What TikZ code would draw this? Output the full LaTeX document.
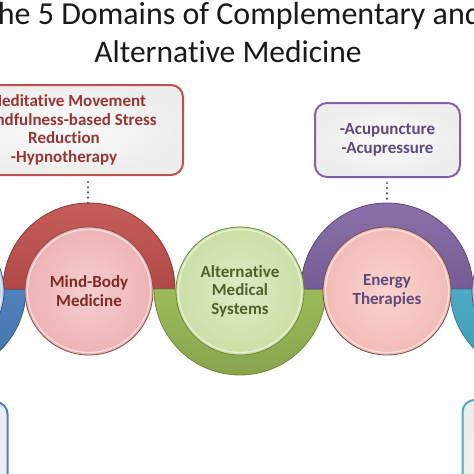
\documentclass[tikz,border=0pt]{standalone}
\usepackage{fontspec}
\setmainfont{Carlito}[Ligatures=CommonOff]
\definecolor{redring}{HTML}{C0504D}
\definecolor{redringD}{HTML}{8C3836}
\definecolor{bluering}{HTML}{4F81BD}
\definecolor{blueringD}{HTML}{385D8A}
\definecolor{greenring}{HTML}{9BBB59}
\definecolor{greenringD}{HTML}{71893F}
\definecolor{purplering}{HTML}{8064A2}
\definecolor{purpleringD}{HTML}{5C4776}
\definecolor{tealring}{HTML}{4BACC6}
\definecolor{tealringD}{HTML}{357D91}
\definecolor{mbtext}{HTML}{7F2A28}
\definecolor{alttext}{HTML}{4F6228}
\definecolor{ettext}{HTML}{5F497A}
\definecolor{boxred}{HTML}{943634}
\definecolor{dotcol}{HTML}{5A5070}
\definecolor{lbIn}{HTML}{D4E3F3}\definecolor{lbOut}{HTML}{B7CDE8}
\definecolor{mbIn}{HTML}{F6CFCF}\definecolor{mbOut}{HTML}{EDB3B4}\definecolor{mbLine}{HTML}{8B4A4A}
\definecolor{altIn}{HTML}{E0ECC8}\definecolor{altOut}{HTML}{CBDFA5}\definecolor{altLine}{HTML}{6E8A3A}
\definecolor{etIn}{HTML}{FAD4D0}\definecolor{etOut}{HTML}{F2BBB6}\definecolor{etLine}{HTML}{7A4A4A}
\definecolor{lvIn}{HTML}{DCD6EA}\definecolor{lvOut}{HTML}{C3BADB}
\tikzset{
  halfring/.style={line width=0.8pt},
  disc/.style={circle, minimum size=128pt, inner sep=0pt, line width=0.8pt,
    align=center, font=\bfseries\fontsize{17}{18.5}\selectfont},
  infobox/.style={rounded corners=12pt, line width=2pt, inner color=gray!3, outer color=gray!14,
    align=center, inner sep=0pt, font=\bfseries\fontsize{17}{18.7}\selectfont},
  dotconn/.style={line width=2.4pt, dash pattern=on 0pt off 5.2pt, line cap=round, dotcol},
  rim/.style={white, opacity=0.6, line width=1.2pt}
}
\begin{document}
\begin{tikzpicture}[x=1pt,y=-1pt]
\useasboundingbox (0,0) rectangle (474,474);
\clip (0,0) rectangle (474,474);
\fill[white] (0,0) rectangle (474,474);

% title
\node[anchor=base, font=\fontsize{32}{38}\selectfont, text=black!90] (title1) at (232,24) {The 5 Domains of Complementary and};
\node[anchor=base, font=\fontsize{31.5}{38}\selectfont, text=black!90] (title2) at (228,62) {Alternative Medicine};

% half rings
\path[halfring, bottom color=bluering!90!black, top color=bluering, draw=blueringD] (-60,289) ++(-86pt,0) arc[start angle=180, end angle=360, radius=86pt] -- cycle;
\path[halfring, top color=redring!92!white, bottom color=redring!92!black, draw=redringD] (89,289) ++(-86pt,0) arc[start angle=180, end angle=0, radius=86pt] -- cycle;
\path[halfring, top color=greenring, bottom color=greenring!88!black, draw=greenringD] (240,289) ++(-86pt,0) arc[start angle=180, end angle=360, radius=86pt] -- cycle;
\path[halfring, top color=purplering!92!white, bottom color=purplering!92!black, draw=purpleringD] (387,289) ++(-86pt,0) arc[start angle=180, end angle=0, radius=86pt] -- cycle;
\path[halfring, top color=tealring, bottom color=tealring!88!black, draw=tealringD] (536,289) ++(-86pt,0) arc[start angle=180, end angle=360, radius=86pt] -- cycle;

\coordinate (mbtop) at (88,203);
\coordinate (ettop) at (387,203);

% inner discs
\node[disc, inner color=lbIn, outer color=lbOut, draw=blueringD] (left) at (-60,291) {};
\node[disc, inner color=mbIn, outer color=mbOut, draw=mbLine, text=mbtext] (mb) at (89,291) {Mind-Body\\Medicine};
\node[disc, inner color=altIn, outer color=altOut, draw=altLine, text=alttext] (alt) at (240,291) {Alternative\\Medical\\Systems};
\node[disc, inner color=etIn, outer color=etOut, draw=etLine, text=ettext] (et) at (387,291) {Energy\\Therapies};
\node[disc, inner color=lvIn, outer color=lvOut, draw=purpleringD] (right) at (536,291) {};
\foreach \n in {left,mb,alt,et,right} \draw[rim] (\n.center) circle[radius=61.5pt];

% boxes
\node[infobox, draw=redring, minimum width=238pt, minimum height=90pt, text=boxred] (mbbox) at (64,130)
  {-Meditative Movement\\-Mindfulness-based Stress\\Reduction\\-Hypnotherapy};
\node[infobox, draw=purplering, minimum width=145pt, minimum height=74pt, text=ettext] (etbox) at (387.5,140)
  {-Acupuncture\\-Acupressure};
\node[infobox, draw=bluering, minimum width=145pt, minimum height=110pt] (leftbox) at (-65,457) {};
\node[infobox, draw=tealring, minimum width=145pt, minimum height=110pt] (rightbox) at (535,455) {};

% dotted connectors
\draw[dotconn] (mbtop |- mbbox.south) ++(0,6) -- (mbtop);
\draw[dotconn] (ettop |- etbox.south) ++(0,5) -- (ettop);
\end{tikzpicture}
\end{document}
